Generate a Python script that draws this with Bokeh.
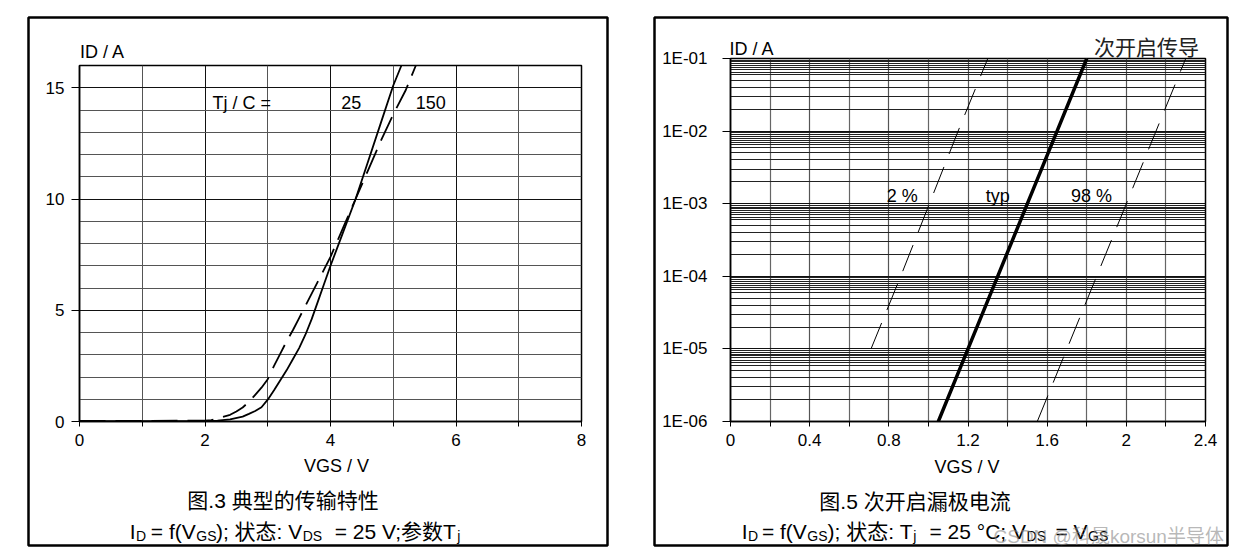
from bokeh.plotting import figure
from bokeh.models import (Label, FixedTicker, CustomJSTickFormatter, Range1d, GridBox)
from bokeh.embed import file_html
from bokeh.resources import INLINE

# ---------------- data: Fig.3 transfer characteristics ----------------
vgs_25 = [0, 1.0, 2.0, 2.2, 2.4, 2.6, 2.7, 2.8, 2.9, 3.0, 3.1, 3.2, 3.3, 3.4, 3.5,
          3.6, 3.7, 3.8, 3.9, 4.0, 4.2, 4.4, 4.6, 4.8, 5.0, 5.13]
id_25 = [0.02, 0.02, 0.02, 0.04, 0.1, 0.22, 0.34, 0.47, 0.64, 0.98, 1.4, 1.85, 2.3, 2.8, 3.3,
         3.9, 4.6, 5.4, 6.2, 7.0, 8.5, 10.0, 11.7, 13.4, 15.1, 16.0]
vgs_150 = [0, 1.0, 2.0, 2.1, 2.2, 2.3, 2.4, 2.5, 2.6, 2.7, 2.8, 2.9, 3.0, 3.1, 3.2,
           3.3, 3.4, 3.5, 3.6, 3.7, 3.8, 3.9, 4.0, 4.2, 4.4, 4.6, 4.8, 5.0, 5.2, 5.36]
id_150 = [0.03, 0.03, 0.04, 0.06, 0.14, 0.22, 0.3, 0.45, 0.63, 0.88, 1.2, 1.52, 1.9, 2.5, 3.05,
          3.6, 4.1, 4.65, 5.2, 5.75, 6.3, 6.85, 7.4, 8.7, 10.0, 11.3, 12.6, 13.8, 14.9, 16.0]
left_x_ticks = [0, 2, 4, 6, 8]
left_x_minor = [1, 3, 5, 7]
left_y_ticks = [0, 5, 10, 15]
left_y_minor = [1, 2, 3, 4, 6, 7, 8, 9, 11, 12, 13, 14, 16]

# ---------------- data: Fig.5 subthreshold drain current ----------------
typ_vgs = [1.05, 1.2, 1.35, 1.5, 1.65, 1.8]
typ_id = [1e-6, 1e-5, 1e-4, 1e-3, 1e-2, 1e-1]
p2_vgs = [0.71, 0.86, 1.005, 1.15, 1.30]
p2_id = [1e-5, 1e-4, 1e-3, 1e-2, 1e-1]
p98_vgs = [1.55, 1.70, 1.85, 2.0, 2.15, 2.30]
p98_id = [1e-6, 1e-5, 1e-4, 1e-3, 1e-2, 1e-1]
right_x_ticks = [0, 0.4, 0.8, 1.2, 1.6, 2.0, 2.4]
right_x_minor = [0.2, 0.6, 1.0, 1.4, 1.8, 2.2]
right_y_ticks = [1e-6, 1e-5, 1e-4, 1e-3, 1e-2, 1e-1]
mantissas = [2, 3, 4, 5, 6, 6.5, 7, 7.5, 8, 8.5, 9, 9.5]
right_y_minor = [m * d for d in right_y_ticks[:-1] for m in mantissas]

LAT = "Liberation Sans"
MIX = "Liberation Sans, Noto Sans CJK SC"
CJK = "Noto Sans CJK SC"

# advance widths (1/1000 em) used to butt each subscript against its base text
ADV = {" ": 278, "(": 333, ")": 333, ";": 278, ":": 278, "=": 584, ".": 278, "°": 400,
       "I": 278, "T": 611, "V": 667, "C": 722, "D": 722, "G": 778, "S": 667, "f": 278, "j": 222}


def text_width(t, size):
    return sum(ADV.get(c, 556 if c.isdigit() else 1000) for c in t) * size / 1000.0


def style_common(p):
    p.frame_align = False
    p.outline_line_color = "black"
    p.outline_line_width = 1.5
    p.background_fill_color = None
    p.border_fill_color = None
    for ax in (p.xaxis[0], p.yaxis[0]):
        ax.axis_line_color = "black"
        ax.axis_line_width = 1.5
        ax.major_label_text_font = LAT
        ax.major_label_text_font_size = "17px"
        ax.major_label_text_color = "black"
        ax.major_tick_line_color = "black"
        ax.major_tick_in = 0
        ax.minor_tick_in = 0


def lab(p, text, x, y, size, font=LAT, align="left", baseline="middle", units="canvas", color="black", alpha=1.0):
    p.add_layout(Label(x=x, y=y, x_units=units, y_units=units, text=text,
                       text_font=font, text_font_size=size, text_align=align,
                       text_baseline=baseline, text_color=color, text_alpha=alpha))


# ======================= left chart =======================
p1 = figure(width=618, height=555, x_range=Range1d(0, 8), y_range=Range1d(0, 16),
            output_backend="svg", toolbar_location=None, title=None,
            min_border_left=79, min_border_right=37, min_border_top=65, min_border_bottom=134)
style_common(p1)
p1.xaxis.ticker = FixedTicker(ticks=left_x_ticks, minor_ticks=left_x_minor)
p1.yaxis.ticker = FixedTicker(ticks=left_y_ticks, minor_ticks=left_y_minor)
p1.xaxis.major_tick_out = 5
p1.xaxis.minor_tick_out = 5
p1.xaxis.minor_tick_line_color = "black"
p1.xaxis.major_label_standoff = 7
p1.yaxis.major_tick_out = 8
p1.yaxis.minor_tick_line_color = None
p1.yaxis.major_label_standoff = 7
for g in (p1.xgrid[0], p1.ygrid[0]):
    g.grid_line_color = "#111111"
    g.grid_line_width = 1
    g.minor_grid_line_color = "#555555"
    g.minor_grid_line_width = 1

p1.line(vgs_25, id_25, line_color="black", line_width=1.8)
p1.line(vgs_150, id_150, line_color="black", line_width=1.8, line_dash="26 10")

lab(p1, "Tj / C =", 2.12, 14.33, "18px", units="data")
lab(p1, "25", 4.17, 14.33, "18px", units="data")
lab(p1, "150", 5.36, 14.33, "18px", units="data")

# ======================= right chart =======================
p2 = figure(width=619, height=555, x_range=Range1d(0, 2.4), y_range=Range1d(1e-6, 1e-1),
            y_axis_type="log", output_backend="svg", toolbar_location=None, title=None,
            min_border_left=112, min_border_right=32, min_border_top=58, min_border_bottom=134)
style_common(p2)
p2.xaxis.ticker = FixedTicker(ticks=right_x_ticks, minor_ticks=right_x_minor)
p2.yaxis.ticker = FixedTicker(ticks=right_y_ticks, minor_ticks=right_y_minor)
p2.xaxis.formatter = CustomJSTickFormatter(code="return String(Math.round(tick*10)/10);")
p2.yaxis.formatter = CustomJSTickFormatter(
    code="var e = Math.round(Math.log10(tick)); return '1E-0' + String(-e);")
p2.xaxis.major_tick_out = 5
p2.xaxis.minor_tick_out = 5
p2.xaxis.minor_tick_line_color = "black"
p2.xaxis.major_label_standoff = 7
p2.yaxis.major_tick_out = 8
p2.yaxis.minor_tick_line_color = None
p2.yaxis.major_label_standoff = 15
p2.xgrid.grid_line_color = "#555555"
p2.xgrid.grid_line_width = 1.2
p2.xgrid.minor_grid_line_color = "#666666"
p2.xgrid.minor_grid_line_width = 1.2
p2.ygrid.grid_line_color = "#111111"
p2.ygrid.grid_line_width = 1
p2.ygrid.minor_grid_line_color = "#222222"
p2.ygrid.minor_grid_line_width = 1

p2.line(typ_vgs, typ_id, line_color="black", line_width=3.5)
p2.line(p2_vgs, p2_id, line_color="black", line_width=1, line_dash="28 14")
p2.line(p98_vgs, p98_id, line_color="black", line_width=1, line_dash="28 14")

lab(p2, "2 %", 0.79, 1.28e-3, "18px", units="data")
lab(p2, "typ", 1.29, 1.28e-3, "18px", units="data")
lab(p2, "98 %", 1.72, 1.28e-3, "18px", units="data")

# ============ transparent layer for the texts and boxes around the charts ============
ov = figure(width=1237, height=555, x_range=Range1d(0, 1237), y_range=Range1d(555, 0),
            output_backend="svg", toolbar_location=None, title=None,
            x_axis_location=None, y_axis_location=None,
            min_border_left=0, min_border_right=0, min_border_top=0, min_border_bottom=0)
ov.frame_align = False
ov.background_fill_color = None
ov.border_fill_color = None
ov.outline_line_color = None
ov.xgrid.visible = False
ov.ygrid.visible = False

# panel frames (overlay data units equal page pixels)
ov.quad(left=[28, 654], right=[607, 1227], top=[17, 17], bottom=[545, 545],
        fill_color=None, line_color="black", line_width=2.5)

lab(ov, "ID / A", 79.5, 51.5, "18px")
lab(ov, "VGS / V", 336, 465.5, "18px", align="center")
lab(ov, "图.3 典型的传输特性", 282.5, 500, "21px", font=MIX, align="center")
lab(ov, "ID / A", 729, 48, "18px")
lab(ov, "次开启传导", 1093.5, 45.5, "21px", font=CJK, color="#222222")
lab(ov, "VGS / V", 966.5, 466, "18px", align="center")
lab(ov, "图.5 次开启漏极电流", 914.5, 501, "21px", font=MIX, align="center")

MAIN_Y, SUB_Y = 531, 535
caption_left = [("I", 129.2, "D"), ("= f(V", 150.3, "GS"), ("); 状态: V", 215.4, "DS"),
                ("= 25 V;参数T", 334.2, "j")]
caption_right = [("I", 741.2, "D"), ("= f(V", 761.4, "GS"), ("); 状态: T", 827.0, "j"),
                 ("= 25 °C; V", 929.0, "DS"), ("= V", 1055.0, "GS")]
for main, x, sub in caption_left + caption_right:
    lab(ov, main, x, MAIN_Y, "21px", font=MIX)
    lab(ov, sub, x + text_width(main, 21) + 0.5, SUB_Y, "14px", font=LAT)

lab(ov, "CSDN @科晟korsun半导体", 993, 536, "19px", font=MIX, color="#888888", alpha=0.6)

layout = GridBox(children=[(ov, 0, 0, 1, 2), (p1, 0, 0), (p2, 0, 1)])
open("out.html", "w").write(file_html(layout, INLINE))
